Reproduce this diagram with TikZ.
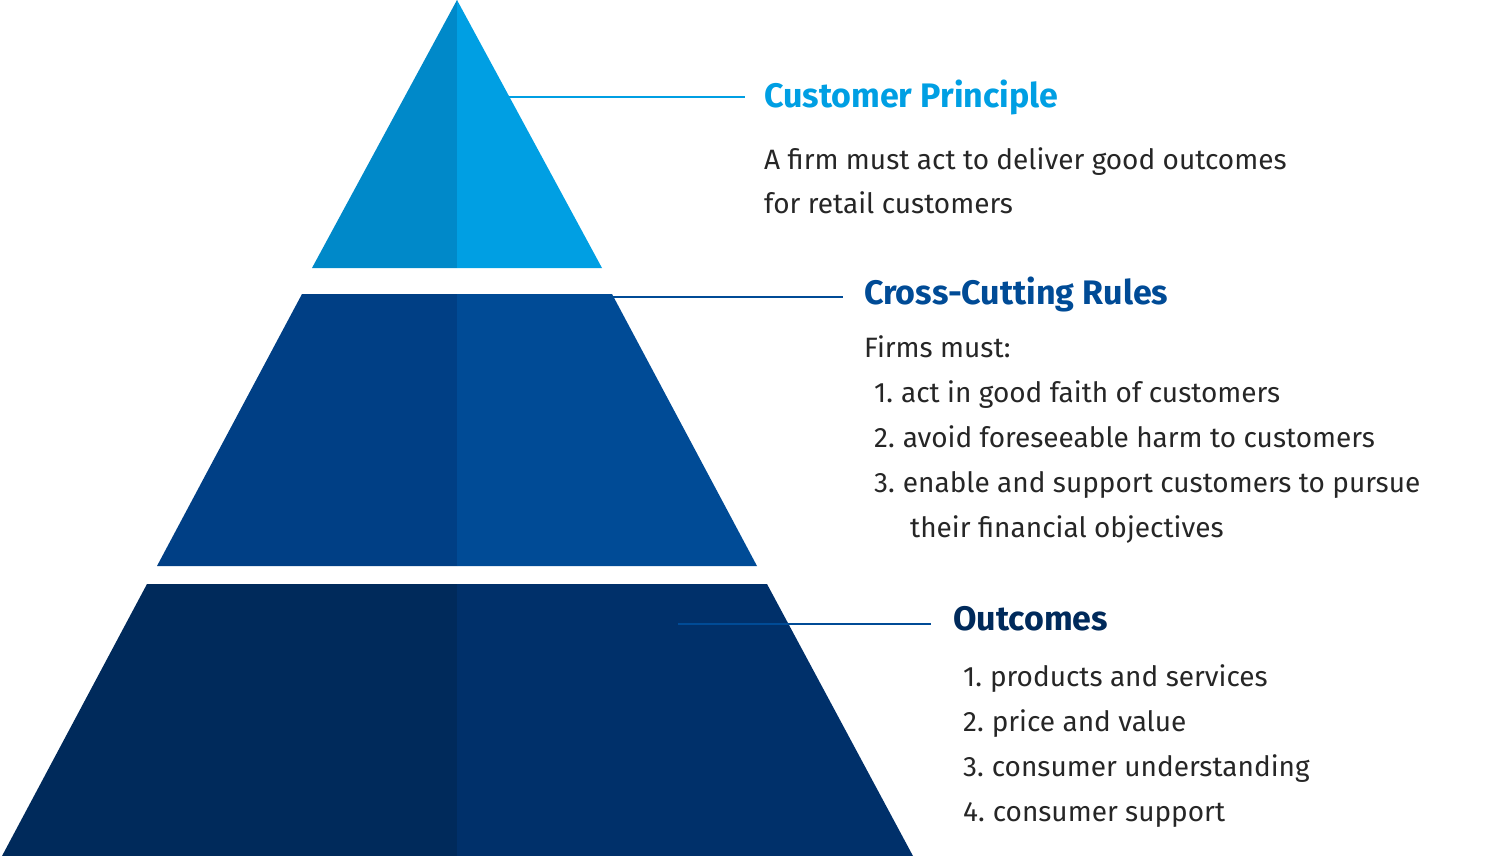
\documentclass[tikz,border=0pt]{standalone}
\usepackage{fontspec}
\setmainfont{Fira Sans}
\begin{document}
\begin{tikzpicture}[x=1pt,y=-1pt,
  ttl/.style={anchor=base west,inner sep=0pt,font=\fontsize{34}{40}\selectfont\bfseries},
  bdy/.style={anchor=base west,inner sep=0pt,font=\fontsize{28}{34}\selectfont,text=black!85},
  ldr/.style={line width=2.5pt}]
\useasboundingbox (0,0) rectangle (1500,856);
\definecolor{tl}{HTML}{0089C9}\definecolor{tr}{HTML}{009FE3}
\definecolor{ml}{HTML}{003F85}\definecolor{mr}{HTML}{004B96}
\definecolor{bl}{HTML}{002A5B}\definecolor{br}{HTML}{00306A}
% top tier
\fill[tl] (457,0) -- (312,268) -- (457,268) -- cycle;
\fill[tr] (457,0) -- (602,268) -- (457,268) -- cycle;
% middle tier
\fill[ml] (302,294) -- (157,566) -- (457,566) -- (457,294) -- cycle;
\fill[mr] (457,294) -- (457,566) -- (757,566) -- (612,294) -- cycle;
% bottom tier
\fill[bl] (147,584) -- (2,856) -- (457,856) -- (457,584) -- cycle;
\fill[br] (457,584) -- (457,856) -- (913,856) -- (767,584) -- cycle;
% leaders
\coordinate (a1) at (490,97); \coordinate (a2) at (745,97);
\coordinate (b1) at (590,297); \coordinate (b2) at (843,297);
\coordinate (c1) at (678,624); \coordinate (c2) at (931,624);
\draw[ldr,tr] (a1) -- (a2);
\draw[ldr,mr] (b1) -- (b2);
\draw[ldr,mr] (c1) -- (c2);
% texts
\node[ttl,text=tr] (t1) at (764,108) {Customer Principle};
\node[bdy] (p1) at (764,170) {A firm must act to deliver good outcomes};
\node[bdy] (p2) at (764,214) {for retail customers};
\node[ttl,text=mr] (t2) at (864,304) {Cross-Cutting Rules};
\node[bdy] (q0) at (864,357) {Firms must:};
\node[bdy] (q1) at (874,402) {1.\hspace{8pt}act in good faith of customers};
\node[bdy] (q2) at (874,447) {2.\hspace{8pt}avoid foreseeable harm to customers};
\node[bdy] (q3) at (874,492) {3.\hspace{8pt}enable and support customers to pursue};
\node[bdy] (q4) at (910,537) {their financial objectives};
\node[ttl,text=bl] (t3) at (953,630) {Outcomes};
\node[bdy] (r1) at (963,686) {1.\hspace{8pt}products and services};
\node[bdy] (r2) at (963,731) {2.\hspace{8pt}price and value};
\node[bdy] (r3) at (963,776) {3.\hspace{8pt}consumer understanding};
\node[bdy] (r4) at (963,821) {4.\hspace{8pt}consumer support};
\end{tikzpicture}
\end{document}
